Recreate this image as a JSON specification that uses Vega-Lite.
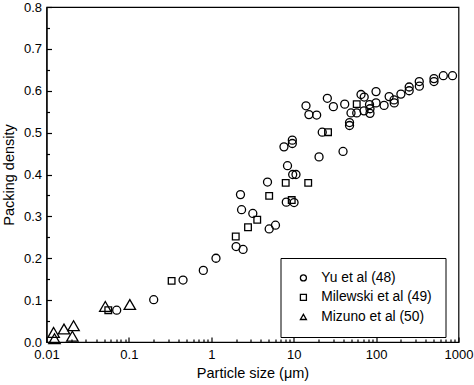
{
  "$schema": "https://vega.github.io/schema/vega-lite/v6.json",
  "width": 412,
  "height": 335,
  "autosize": {"type": "none"},
  "padding": {"left": 46.5, "top": 7, "right": 15.5, "bottom": 43},
  "background": "white",
  "config": {
    "view": {"stroke": "black", "strokeWidth": 1.2},
    "font": "Liberation Sans",
    "axis": {
      "labelFont": "Liberation Sans", "titleFont": "Liberation Sans",
      "labelFontSize": 13, "titleFontSize": 14.5, "titleFontWeight": "normal",
      "labelColor": "black", "titleColor": "black",
      "domainColor": "black", "tickColor": "black", "grid": false,
      "domainWidth": 1.2, "tickWidth": 1.2
    },
    "legend": {
      "title": null, "orient": "none", "legendX": 234, "legendY": 251,
      "strokeColor": "black", "fillColor": "white",
      "padding": 13, "symbolSize": 36, "symbolStrokeColor": "black", "symbolFillColor": "transparent", "symbolStrokeWidth": 1.3,
      "labelFontSize": 13.8, "labelFont": "Liberation Sans", "labelColor": "black", "labelOffset": 11, "rowPadding": 4.5, "symbolOffset": 3
    }
  },
  "data": {
    "values": [
      {"x": 0.0711, "y": 0.076, "series": "Yu et al (48)"},
      {"x": 0.2, "y": 0.101, "series": "Yu et al (48)"},
      {"x": 0.454, "y": 0.148, "series": "Yu et al (48)"},
      {"x": 0.8, "y": 0.171, "series": "Yu et al (48)"},
      {"x": 1.14, "y": 0.2, "series": "Yu et al (48)"},
      {"x": 2.0, "y": 0.228, "series": "Yu et al (48)"},
      {"x": 2.43, "y": 0.221, "series": "Yu et al (48)"},
      {"x": 2.26, "y": 0.352, "series": "Yu et al (48)"},
      {"x": 2.33, "y": 0.316, "series": "Yu et al (48)"},
      {"x": 3.19, "y": 0.307, "series": "Yu et al (48)"},
      {"x": 4.81, "y": 0.382, "series": "Yu et al (48)"},
      {"x": 5.04, "y": 0.27, "series": "Yu et al (48)"},
      {"x": 6.01, "y": 0.279, "series": "Yu et al (48)"},
      {"x": 7.62, "y": 0.466, "series": "Yu et al (48)"},
      {"x": 9.62, "y": 0.482, "series": "Yu et al (48)"},
      {"x": 9.62, "y": 0.474, "series": "Yu et al (48)"},
      {"x": 8.41, "y": 0.421, "series": "Yu et al (48)"},
      {"x": 9.72, "y": 0.4, "series": "Yu et al (48)"},
      {"x": 10.66, "y": 0.4, "series": "Yu et al (48)"},
      {"x": 8.13, "y": 0.334, "series": "Yu et al (48)"},
      {"x": 10.1, "y": 0.333, "series": "Yu et al (48)"},
      {"x": 14.1, "y": 0.564, "series": "Yu et al (48)"},
      {"x": 15.3, "y": 0.543, "series": "Yu et al (48)"},
      {"x": 19.0, "y": 0.542, "series": "Yu et al (48)"},
      {"x": 20.3, "y": 0.442, "series": "Yu et al (48)"},
      {"x": 25.6, "y": 0.582, "series": "Yu et al (48)"},
      {"x": 30.3, "y": 0.562, "series": "Yu et al (48)"},
      {"x": 22.2, "y": 0.501, "series": "Yu et al (48)"},
      {"x": 39.7, "y": 0.455, "series": "Yu et al (48)"},
      {"x": 41.6, "y": 0.568, "series": "Yu et al (48)"},
      {"x": 47.6, "y": 0.524, "series": "Yu et al (48)"},
      {"x": 47.6, "y": 0.517, "series": "Yu et al (48)"},
      {"x": 49.6, "y": 0.547, "series": "Yu et al (48)"},
      {"x": 58.2, "y": 0.547, "series": "Yu et al (48)"},
      {"x": 65.6, "y": 0.591, "series": "Yu et al (48)"},
      {"x": 71.7, "y": 0.585, "series": "Yu et al (48)"},
      {"x": 71.3, "y": 0.552, "series": "Yu et al (48)"},
      {"x": 83.2, "y": 0.567, "series": "Yu et al (48)"},
      {"x": 84.3, "y": 0.546, "series": "Yu et al (48)"},
      {"x": 84.3, "y": 0.557, "series": "Yu et al (48)"},
      {"x": 99.8, "y": 0.598, "series": "Yu et al (48)"},
      {"x": 99.8, "y": 0.571, "series": "Yu et al (48)"},
      {"x": 125, "y": 0.565, "series": "Yu et al (48)"},
      {"x": 144, "y": 0.586, "series": "Yu et al (48)"},
      {"x": 165, "y": 0.578, "series": "Yu et al (48)"},
      {"x": 166, "y": 0.571, "series": "Yu et al (48)"},
      {"x": 200, "y": 0.592, "series": "Yu et al (48)"},
      {"x": 252, "y": 0.609, "series": "Yu et al (48)"},
      {"x": 252, "y": 0.6, "series": "Yu et al (48)"},
      {"x": 334, "y": 0.622, "series": "Yu et al (48)"},
      {"x": 335, "y": 0.611, "series": "Yu et al (48)"},
      {"x": 504, "y": 0.629, "series": "Yu et al (48)"},
      {"x": 504, "y": 0.622, "series": "Yu et al (48)"},
      {"x": 654, "y": 0.636, "series": "Yu et al (48)"},
      {"x": 846, "y": 0.636, "series": "Yu et al (48)"},
      {"x": 0.0562, "y": 0.076, "series": "Milewski et al (49)"},
      {"x": 0.33, "y": 0.146, "series": "Milewski et al (49)"},
      {"x": 1.98, "y": 0.252, "series": "Milewski et al (49)"},
      {"x": 2.79, "y": 0.274, "series": "Milewski et al (49)"},
      {"x": 3.61, "y": 0.292, "series": "Milewski et al (49)"},
      {"x": 5.04, "y": 0.349, "series": "Milewski et al (49)"},
      {"x": 8.0, "y": 0.38, "series": "Milewski et al (49)"},
      {"x": 9.46, "y": 0.339, "series": "Milewski et al (49)"},
      {"x": 15.0, "y": 0.38, "series": "Milewski et al (49)"},
      {"x": 26.1, "y": 0.501, "series": "Milewski et al (49)"},
      {"x": 58.2, "y": 0.568, "series": "Milewski et al (49)"},
      {"x": 0.0122, "y": 0.023, "series": "Mizuno et al (50)"},
      {"x": 0.0125, "y": 0.008, "series": "Mizuno et al (50)"},
      {"x": 0.0163, "y": 0.031, "series": "Mizuno et al (50)"},
      {"x": 0.0213, "y": 0.039, "series": "Mizuno et al (50)"},
      {"x": 0.0206, "y": 0.014, "series": "Mizuno et al (50)"},
      {"x": 0.0517, "y": 0.085, "series": "Mizuno et al (50)"},
      {"x": 0.1026, "y": 0.0895, "series": "Mizuno et al (50)"}
    ]
  },
  "encoding": {
    "x": {"field": "x", "type": "quantitative", "scale": {"type": "log", "domain": [0.01, 1000]}},
    "y": {"field": "y", "type": "quantitative", "scale": {"domain": [0, 0.8], "nice": false}}
  },
  "layer": [
    {
      "transform": [{"filter": "datum.series === 'Yu et al (48)'"}],
      "mark": {"type": "point", "filled": false, "color": "black", "strokeWidth": 1.3, "opacity": 1, "size": 64},
      "encoding": {
        "x": {
          "field": "x", "type": "quantitative",
          "axis": {"orient": "bottom", "values": [0.01, 0.1, 1, 10, 100, 1000], "format": "~g", "tickSize": -5, "labelPadding": 11, "title": "Particle size (μm)", "titlePadding": 5, "labelFlush": false}
        },
        "y": {
          "field": "y", "type": "quantitative",
          "axis": {"orient": "left", "values": [0, 0.1, 0.2, 0.3, 0.4, 0.5, 0.6, 0.7, 0.8], "format": ".1f", "tickSize": -5, "labelPadding": 10, "title": "Packing density", "titlePadding": 7}
        },
        "shape": {
          "field": "series", "type": "nominal",
          "scale": {"domain": ["Yu et al (48)", "Milewski et al (49)", "Mizuno et al (50)"], "range": ["circle", "square", "triangle-up"]}
        }
      }
    },
    {
      "transform": [{"filter": "datum.series === 'Milewski et al (49)'"}],
      "mark": {"type": "point", "filled": false, "color": "black", "strokeWidth": 1.3, "opacity": 1, "size": 44},
      "encoding": {
        "x": {"field": "x", "type": "quantitative", "axis": null},
        "y": {"field": "y", "type": "quantitative", "axis": null},
        "shape": {"field": "series", "type": "nominal"}
      }
    },
    {
      "transform": [{"filter": "datum.series === 'Mizuno et al (50)'"}],
      "mark": {"type": "point", "filled": false, "color": "black", "strokeWidth": 1.3, "opacity": 1, "size": 130},
      "encoding": {
        "x": {"field": "x", "type": "quantitative", "axis": null},
        "y": {"field": "y", "type": "quantitative", "axis": null},
        "shape": {"field": "series", "type": "nominal"}
      }
    },
    {
      "mark": {"type": "point", "opacity": 0},
      "encoding": {
        "x": {
          "field": "x", "type": "quantitative",
          "axis": {"orient": "bottom", "values": [0.02, 0.03, 0.04, 0.05, 0.06, 0.07, 0.08, 0.09, 0.2, 0.3, 0.4, 0.5, 0.6, 0.7, 0.8, 0.9, 2, 3, 4, 5, 6, 7, 8, 9, 20, 30, 40, 50, 60, 70, 80, 90, 200, 300, 400, 500, 600, 700, 800, 900], "tickSize": -3, "labels": false, "domain": false, "title": null}
        },
        "y": {
          "field": "y", "type": "quantitative",
          "axis": {"orient": "left", "values": [0.05, 0.15, 0.25, 0.35, 0.45, 0.55, 0.65, 0.75], "tickSize": -3, "labels": false, "domain": false, "title": null}
        }
      }
    }
  ],
  "resolve": {"axis": {"x": "independent", "y": "independent"}}
}
